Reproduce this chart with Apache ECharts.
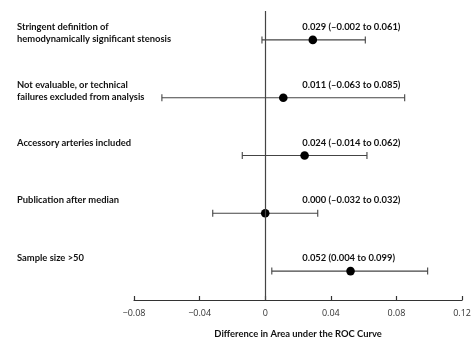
<!DOCTYPE html>
<html>
<head>
<meta charset="utf-8">
<script src="https://cdn.jsdelivr.net/npm/echarts@6/dist/echarts.min.js"></script>
<style>html,body{margin:0;padding:0;background:#fff}#c{width:474px;height:352px}</style>
</head>
<body>
<div id="c"></div>
<script>
const categories = [
  'Stringent definition of\nhemodynamically significant stenosis',
  'Not evaluable, or technical\nfailures excluded from analysis',
  'Accessory arteries included',
  'Publication after median',
  'Sample size >50'
];
const estimates = [0.029, 0.011, 0.024, 0.000, 0.052];
const lowerCI = [-0.002, -0.063, -0.014, -0.032, 0.004];
const upperCI = [0.061, 0.085, 0.062, 0.032, 0.099];
const xTicks = [-0.08, -0.04, 0, 0.04, 0.08, 0.12];
const xTitle = 'Difference in Area under the ROC Curve';

const FONT = 'Lato, "Open Sans", sans-serif';
const FS = 9.4;
function fmt(v) { return (v < 0 ? '\u2013' : '') + Math.abs(v).toFixed(3); }
function tickFmt(v) {
  if (Math.abs(v) < 1e-9) return '0';
  const s = Math.abs(v).toFixed(2);
  return (v < 0 ? '\u2212' : '') + s;
}

const chart = echarts.init(document.getElementById('c'), null, {renderer: 'canvas'});
const data = categories.map((c, i) => [estimates[i], c, lowerCI[i], upperCI[i], i]);

chart.setOption({
  animation: false,
  grid: {left: 134, right: 8, top: 11, bottom: 52},
  xAxis: {
    type: 'value', min: xTicks[0], max: xTicks[xTicks.length - 1], interval: 0.04,
    axisLine: {show: true, lineStyle: {color: '#333', width: 1.2}},
    axisTick: {show: true, inside: true, length: 4, lineStyle: {color: '#333', width: 1.2}},
    splitLine: {show: false},
    axisLabel: {formatter: tickFmt, color: '#333', fontFamily: '"Open Sans", sans-serif', fontSize: 9, margin: 9},
    name: xTitle, nameLocation: 'middle', nameGap: 29,
    nameTextStyle: {color: '#111', fontFamily: FONT, fontSize: FS, fontWeight: 'bold'}
  },
  yAxis: {
    type: 'category', data: categories, inverse: true,
    axisLine: {show: false}, axisTick: {show: false}, axisLabel: {show: false}, splitLine: {show: false}
  },
  series: [{
    type: 'custom',
    data: data,
    dimensions: ['est', 'cat', 'lo', 'hi', 'idx'],
    encode: {x: 0, y: 1},
    renderItem: function (params, api) {
      const est = api.value(0), idx = api.value(4);
      const lo = api.value(2), hi = api.value(3);
      const pEst = api.coord([est, idx]);
      const pLo = api.coord([lo, idx]);
      const pHi = api.coord([hi, idx]);
      const p0 = api.coord([0, idx]);
      const pMin = api.coord([xTicks[0], idx]);
      const y = pEst[1];
      const cap = 3.5;
      const ls = {stroke: '#444', lineWidth: 1.1};
      return {
        type: 'group',
        children: [
          {type: 'line', shape: {x1: pLo[0], y1: y, x2: pHi[0], y2: y}, style: ls},
          {type: 'line', shape: {x1: pLo[0], y1: y - cap, x2: pLo[0], y2: y + cap}, style: ls},
          {type: 'line', shape: {x1: pHi[0], y1: y - cap, x2: pHi[0], y2: y + cap}, style: ls},
          {type: 'circle', shape: {cx: pEst[0], cy: y, r: 4.3}, style: {fill: '#000'}, z2: 10},
          {type: 'text', x: p0[0] + 37, y: y - 13,
            style: {text: fmt(est) + ' (' + fmt(lo) + ' to ' + fmt(hi) + ')', fill: '#111',
              font: 'bold ' + FS + 'px ' + FONT, verticalAlign: 'middle', align: 'left'}},
          {type: 'text', x: pMin[0] - 117, y: y - 19,
            style: {text: categories[idx], fill: '#111', font: 'bold ' + FS + 'px ' + FONT,
              lineHeight: 12, verticalAlign: 'top', align: 'left'}}
        ]
      };
    }
  }, {
    type: 'line',
    data: [],
    markLine: {
      silent: true, symbol: 'none', label: {show: false},
      lineStyle: {color: '#444', width: 1.2, type: 'solid'},
      data: [{xAxis: 0}]
    }
  }]
});
</script>
</body>
</html>
